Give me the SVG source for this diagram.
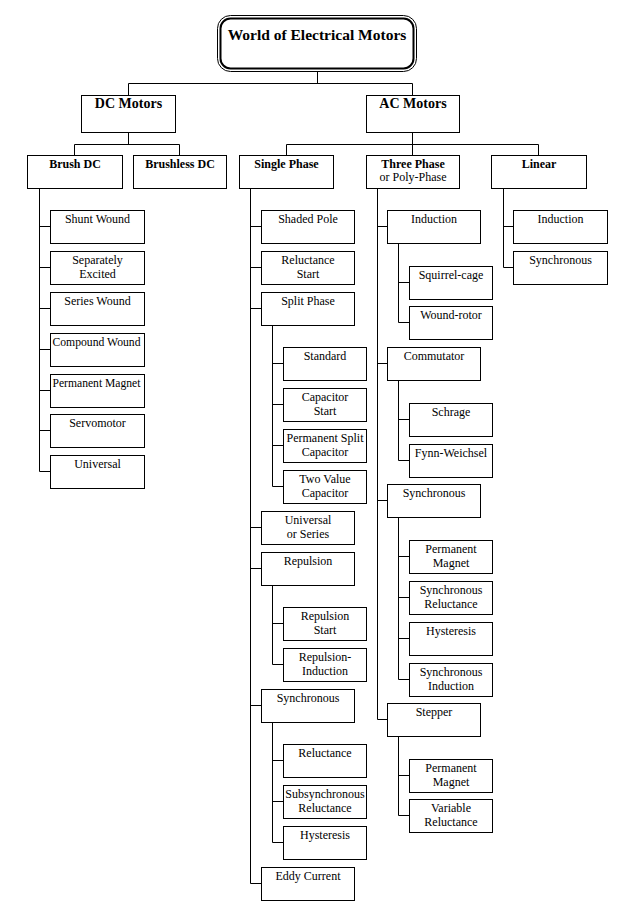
<svg xmlns="http://www.w3.org/2000/svg" width="627" height="918" viewBox="0 0 627 918">
<style>
.bx{fill:#fff;stroke:#000;stroke-width:1}
.ln{fill:none;stroke:#000;stroke-width:1}
text{font-family:"Liberation Serif","Times New Roman",serif;font-size:12px;text-anchor:middle;fill:#000}
.hb{font-weight:bold}
.h1{font-weight:bold;font-size:14px}
.ttl{font-weight:bold;font-size:15.5px}
</style>
<rect x="0" y="0" width="627" height="918" fill="#fff"/>
<g id="connectors" class="ln">
<path d="M317.5 72V83.5M128.5 83.5H412.5M128.5 83.5V95M412.5 83.5V95"/>
<path d="M128.5 132V144.5M74.5 144.5H179.5M74.5 144.5V155M179.5 144.5V155"/>
<path d="M412.5 132V144.5M286.5 144.5H538.5M286.5 144.5V155M412.5 144.5V155M538.5 144.5V155"/>
<path d="M39.5 188V471.5M39.5 226.5H50M39.5 267.5H50M39.5 308.5H50M39.5 349.5H50M39.5 390.5H50M39.5 430.5H50M39.5 471.5H50"/>
<path d="M250.5 188V883.5M250.5 226.5H261M250.5 267.5H261M250.5 308.5H261M250.5 527.5H261M250.5 568.5H261M250.5 705.5H261M250.5 883.5H261"/>
<path d="M272.5 325V486.5M272.5 363.5H283M272.5 404.5H283M272.5 445.5H283M272.5 486.5H283"/>
<path d="M272.5 585V664.5M272.5 623.5H283M272.5 664.5H283"/>
<path d="M272.5 722V842.5M272.5 760.5H283M272.5 801.5H283M272.5 842.5H283"/>
<path d="M377.5 188V719.5M377.5 226.5H387M377.5 363.5H387M377.5 500.5H387M377.5 719.5H387"/>
<path d="M398.5 243V322.5M398.5 282.5H409M398.5 322.5H409"/>
<path d="M398.5 380V460.5M398.5 419.5H409M398.5 460.5H409"/>
<path d="M398.5 517V679.5M398.5 556.5H409M398.5 597.5H409M398.5 638.5H409M398.5 679.5H409"/>
<path d="M398.5 736V815.5M398.5 775.5H409M398.5 815.5H409"/>
<path d="M503.5 188V267.5M503.5 226.5H513M503.5 267.5H513"/>
</g>
<g id="title">
<rect x="217.5" y="15.5" width="199" height="56" rx="13" class="bx"/>
<rect x="220.5" y="18.5" width="193" height="50" rx="10" fill="none" stroke="#000" stroke-width="2"/>
<text x="317" y="40" class="ttl">World of Electrical Motors</text>
</g>
<g id="dc-motors"><rect x="81.5" y="95.5" width="94" height="37" class="bx"/><text x="128.5" y="108" class="h1">DC Motors</text></g>
<g id="ac-motors"><rect x="366.5" y="95.5" width="93" height="37" class="bx"/><text x="413" y="108" class="h1">AC Motors</text></g>
<g id="brush-dc"><rect x="27.5" y="155.5" width="95" height="33" class="bx"/><text x="75" y="167.5" class="hb">Brush DC</text></g>
<g id="brushless-dc"><rect x="133.5" y="155.5" width="93" height="33" class="bx"/><text x="180" y="167.5" class="hb">Brushless DC</text></g>
<g id="single-phase"><rect x="239.5" y="155.5" width="94" height="33" class="bx"/><text x="286.5" y="167.5" class="hb">Single Phase</text></g>
<g id="three-phase"><rect x="366.5" y="155.5" width="93" height="33" class="bx"/><text x="413" y="167.5" class="hb">Three Phase</text><text x="413" y="181">or Poly-Phase</text></g>
<g id="linear"><rect x="491.5" y="155.5" width="95" height="33" class="bx"/><text x="539" y="167.5" class="hb">Linear</text></g>

<g id="shunt-wound"><rect x="50.5" y="210.5" width="94" height="33" class="bx"/><text x="97.5" y="223">Shunt Wound</text></g>
<g id="separately-excited"><rect x="50.5" y="251.5" width="94" height="33" class="bx"/><text x="97.5" y="264">Separately</text><text x="97.5" y="278">Excited</text></g>
<g id="series-wound"><rect x="50.5" y="292.5" width="94" height="33" class="bx"/><text x="97.5" y="305">Series Wound</text></g>
<g id="compound-wound"><rect x="50.5" y="333.5" width="94" height="33" class="bx"/><text x="96.5" y="346" textLength="88" lengthAdjust="spacingAndGlyphs">Compound Wound</text></g>
<g id="dc-permanent-magnet"><rect x="50.5" y="374.5" width="94" height="33" class="bx"/><text x="96.5" y="387" textLength="88" lengthAdjust="spacingAndGlyphs">Permanent Magnet</text></g>
<g id="servomotor"><rect x="50.5" y="414.5" width="94" height="33" class="bx"/><text x="97.5" y="427">Servomotor</text></g>
<g id="dc-universal"><rect x="50.5" y="455.5" width="94" height="33" class="bx"/><text x="97.5" y="468">Universal</text></g>

<g id="shaded-pole"><rect x="261.5" y="210.5" width="93" height="33" class="bx"/><text x="308" y="223">Shaded Pole</text></g>
<g id="reluctance-start"><rect x="261.5" y="251.5" width="93" height="33" class="bx"/><text x="308" y="264">Reluctance</text><text x="308" y="278">Start</text></g>
<g id="split-phase"><rect x="261.5" y="292.5" width="93" height="33" class="bx"/><text x="308" y="305">Split Phase</text></g>
<g id="standard"><rect x="283.5" y="347.5" width="83" height="33" class="bx"/><text x="325" y="360">Standard</text></g>
<g id="capacitor-start"><rect x="283.5" y="388.5" width="83" height="33" class="bx"/><text x="325" y="401">Capacitor</text><text x="325" y="415">Start</text></g>
<g id="permanent-split-capacitor"><rect x="283.5" y="429.5" width="83" height="33" class="bx"/><text x="325" y="442">Permanent Split</text><text x="325" y="456">Capacitor</text></g>
<g id="two-value-capacitor"><rect x="283.5" y="470.5" width="83" height="33" class="bx"/><text x="325" y="483">Two Value</text><text x="325" y="497">Capacitor</text></g>
<g id="universal-or-series"><rect x="261.5" y="511.5" width="93" height="33" class="bx"/><text x="308" y="524">Universal</text><text x="308" y="538">or Series</text></g>
<g id="repulsion"><rect x="261.5" y="552.5" width="93" height="33" class="bx"/><text x="308" y="565">Repulsion</text></g>
<g id="repulsion-start"><rect x="283.5" y="607.5" width="83" height="33" class="bx"/><text x="325" y="620">Repulsion</text><text x="325" y="634">Start</text></g>
<g id="repulsion-induction"><rect x="283.5" y="648.5" width="83" height="33" class="bx"/><text x="325" y="661">Repulsion-</text><text x="325" y="675">Induction</text></g>
<g id="sp-synchronous"><rect x="261.5" y="689.5" width="93" height="33" class="bx"/><text x="308" y="702">Synchronous</text></g>
<g id="sp-reluctance"><rect x="283.5" y="744.5" width="83" height="33" class="bx"/><text x="325" y="757">Reluctance</text></g>
<g id="subsynchronous-reluctance"><rect x="283.5" y="785.5" width="83" height="33" class="bx"/><text x="325" y="798">Subsynchronous</text><text x="325" y="812">Reluctance</text></g>
<g id="sp-hysteresis"><rect x="283.5" y="826.5" width="83" height="33" class="bx"/><text x="325" y="839">Hysteresis</text></g>
<g id="eddy-current"><rect x="261.5" y="867.5" width="93" height="33" class="bx"/><text x="308" y="880">Eddy Current</text></g>

<g id="tp-induction"><rect x="387.5" y="210.5" width="93" height="33" class="bx"/><text x="434" y="223">Induction</text></g>
<g id="squirrel-cage"><rect x="409.5" y="266.5" width="83" height="33" class="bx"/><text x="451" y="279">Squirrel-cage</text></g>
<g id="wound-rotor"><rect x="409.5" y="306.5" width="83" height="33" class="bx"/><text x="451" y="319">Wound-rotor</text></g>
<g id="commutator"><rect x="387.5" y="347.5" width="93" height="33" class="bx"/><text x="434" y="360">Commutator</text></g>
<g id="schrage"><rect x="409.5" y="403.5" width="83" height="33" class="bx"/><text x="451" y="416">Schrage</text></g>
<g id="fynn-weichsel"><rect x="409.5" y="444.5" width="83" height="33" class="bx"/><text x="451" y="457">Fynn-Weichsel</text></g>
<g id="tp-synchronous"><rect x="387.5" y="484.5" width="93" height="33" class="bx"/><text x="434" y="497">Synchronous</text></g>
<g id="tp-permanent-magnet"><rect x="409.5" y="540.5" width="83" height="33" class="bx"/><text x="451" y="553">Permanent</text><text x="451" y="567">Magnet</text></g>
<g id="synchronous-reluctance"><rect x="409.5" y="581.5" width="83" height="33" class="bx"/><text x="451" y="594">Synchronous</text><text x="451" y="608">Reluctance</text></g>
<g id="tp-hysteresis"><rect x="409.5" y="622.5" width="83" height="33" class="bx"/><text x="451" y="635">Hysteresis</text></g>
<g id="synchronous-induction"><rect x="409.5" y="663.5" width="83" height="33" class="bx"/><text x="451" y="676">Synchronous</text><text x="451" y="690">Induction</text></g>
<g id="stepper"><rect x="387.5" y="703.5" width="93" height="33" class="bx"/><text x="434" y="716">Stepper</text></g>
<g id="stepper-permanent-magnet"><rect x="409.5" y="759.5" width="83" height="33" class="bx"/><text x="451" y="772">Permanent</text><text x="451" y="786">Magnet</text></g>
<g id="variable-reluctance"><rect x="409.5" y="799.5" width="83" height="33" class="bx"/><text x="451" y="812">Variable</text><text x="451" y="826">Reluctance</text></g>

<g id="linear-induction"><rect x="513.5" y="210.5" width="94" height="33" class="bx"/><text x="560.5" y="223">Induction</text></g>
<g id="linear-synchronous"><rect x="513.5" y="251.5" width="94" height="33" class="bx"/><text x="560.5" y="264">Synchronous</text></g>
</svg>
